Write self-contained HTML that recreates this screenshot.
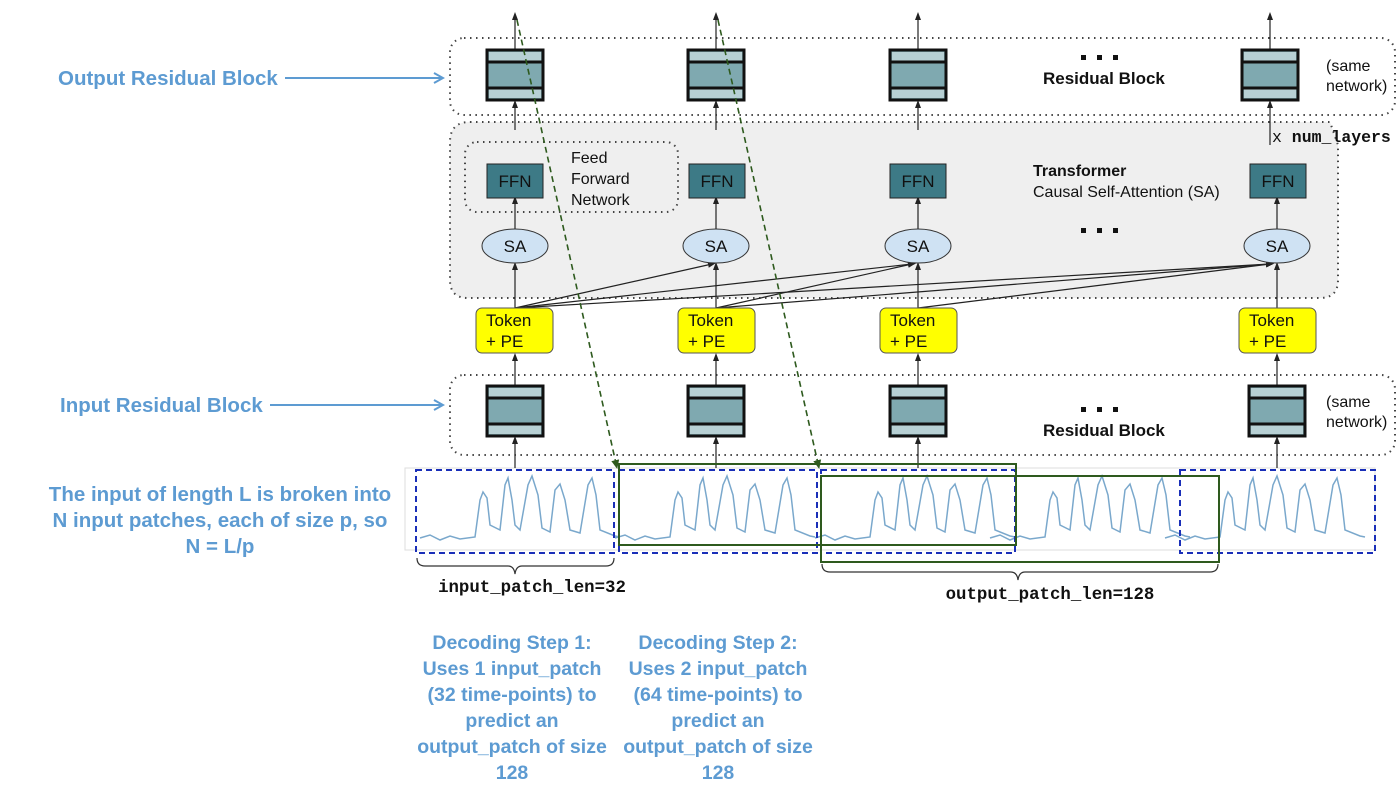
<!DOCTYPE html>
<html><head><meta charset="utf-8"><style>
html,body{margin:0;padding:0;background:#fff;}
svg{display:block;}
.blue{fill:#5d9bd2;font-family:"Liberation Sans",sans-serif;font-weight:bold;}
.mono{font-family:"Liberation Mono",monospace;font-weight:bold;fill:#111;}
</style></head><body>
<svg width="1400" height="788" viewBox="0 0 1400 788" xmlns="http://www.w3.org/2000/svg">
<defs>
<marker id="ah" markerWidth="8" markerHeight="8" refX="4" refY="4" orient="auto" markerUnits="userSpaceOnUse"><path d="M0,1 L8,4 L0,7 z" fill="#222"/></marker>
<marker id="ahb" markerWidth="12" markerHeight="12" refX="10" refY="6" orient="auto" markerUnits="userSpaceOnUse"><path d="M1,1 L10,6 L1,11" fill="none" stroke="#5d9bd2" stroke-width="2"/></marker>
<marker id="ahg" markerWidth="10" markerHeight="10" refX="8" refY="5" orient="auto" markerUnits="userSpaceOnUse"><path d="M0,1 L9,5 L0,9 z" fill="#2e5a1e"/></marker>
<g id="rb">
<rect x="-28" y="0" width="56" height="50" fill="#7fa9b0" stroke="#111" stroke-width="3"/>
<rect x="-26" y="2" width="52" height="9" fill="#b7d0d4"/>
<rect x="-26" y="39" width="52" height="9" fill="#b7d0d4"/>
<line x1="-28" y1="12" x2="28" y2="12" stroke="#111" stroke-width="3"/>
<line x1="-28" y1="38" x2="28" y2="38" stroke="#111" stroke-width="3"/>
</g>
<path id="ts" d="M0,538 L10,535 L20,540 L30,536 L40,539 L55,537 L60,500 L63,492 L67,498 L70,525 L80,530 L85,485 L88,478 L92,500 L95,525 L100,530 L108,485 L112,476 L118,495 L122,528 L130,532 L135,490 L140,484 L145,500 L150,530 L160,533 L168,485 L172,478 L176,495 L180,530 L195,536 L200,537" fill="none" stroke="#7aa8cc" stroke-width="1.5"/>
</defs>

<rect x="450" y="38" width="945" height="77" rx="14" fill="none" stroke="#444" stroke-width="2" stroke-dasharray="1.5 4.5"/>
<path d="M470,122 L1330,122 L1338,145 L1338,280 Q1338,298 1320,298 L468,298 Q450,298 450,280 L450,142 Q450,122 470,122 z" fill="#efefef" stroke="#444" stroke-width="2" stroke-dasharray="1.5 4.5"/>
<rect x="465" y="142" width="213" height="70" rx="12" fill="none" stroke="#444" stroke-width="2" stroke-dasharray="1.5 4.5"/>
<rect x="450" y="375" width="945" height="80" rx="14" fill="none" stroke="#444" stroke-width="2" stroke-dasharray="1.5 4.5"/>

<rect x="405" y="468" width="970" height="82" fill="#fff" stroke="#ddd" stroke-width="1"/>
<use href="#ts" x="420"/>
<use href="#ts" x="615"/>
<use href="#ts" x="815"/>
<use href="#ts" x="990"/>
<use href="#ts" x="1165"/>

<g stroke="#222" stroke-width="1.2" fill="none">
<line x1="515" y1="50" x2="515" y2="16" marker-end="url(#ah)"/>
<line x1="716" y1="50" x2="716" y2="16" marker-end="url(#ah)"/>
<line x1="918" y1="50" x2="918" y2="16" marker-end="url(#ah)"/>
<line x1="1270" y1="50" x2="1270" y2="16" marker-end="url(#ah)"/>
<line x1="515" y1="130" x2="515" y2="104" marker-end="url(#ah)"/>
<line x1="716" y1="130" x2="716" y2="104" marker-end="url(#ah)"/>
<line x1="918" y1="130" x2="918" y2="104" marker-end="url(#ah)"/>
<line x1="1270" y1="145" x2="1270" y2="104" marker-end="url(#ah)"/>
<line x1="515" y1="229" x2="515" y2="200" marker-end="url(#ah)"/>
<line x1="716" y1="229" x2="716" y2="200" marker-end="url(#ah)"/>
<line x1="918" y1="229" x2="918" y2="200" marker-end="url(#ah)"/>
<line x1="1277" y1="229" x2="1277" y2="200" marker-end="url(#ah)"/>
<line x1="515" y1="308" x2="515" y2="266" marker-end="url(#ah)"/>
<line x1="716" y1="308" x2="716" y2="266" marker-end="url(#ah)"/>
<line x1="918" y1="308" x2="918" y2="266" marker-end="url(#ah)"/>
<line x1="1277" y1="308" x2="1277" y2="266" marker-end="url(#ah)"/>
<line x1="515" y1="308" x2="712" y2="264" marker-end="url(#ah)"/>
<line x1="515" y1="308" x2="912" y2="264" marker-end="url(#ah)"/>
<line x1="515" y1="308" x2="1270" y2="264" marker-end="url(#ah)"/>
<line x1="716" y1="308" x2="912" y2="264" marker-end="url(#ah)"/>
<line x1="716" y1="308" x2="1270" y2="264" marker-end="url(#ah)"/>
<line x1="918" y1="308" x2="1270" y2="264" marker-end="url(#ah)"/>
<line x1="515" y1="468" x2="515" y2="440" marker-end="url(#ah)"/>
<line x1="716" y1="468" x2="716" y2="440" marker-end="url(#ah)"/>
<line x1="918" y1="468" x2="918" y2="440" marker-end="url(#ah)"/>
<line x1="1277" y1="468" x2="1277" y2="440" marker-end="url(#ah)"/>
<line x1="515" y1="385" x2="515" y2="357" marker-end="url(#ah)"/>
<line x1="716" y1="385" x2="716" y2="357" marker-end="url(#ah)"/>
<line x1="918" y1="385" x2="918" y2="357" marker-end="url(#ah)"/>
<line x1="1277" y1="385" x2="1277" y2="357" marker-end="url(#ah)"/>
</g>

<use href="#rb" x="515" y="50"/><use href="#rb" x="716" y="50"/><use href="#rb" x="918" y="50"/><use href="#rb" x="1270" y="50"/>
<use href="#rb" x="515" y="386"/><use href="#rb" x="716" y="386"/><use href="#rb" x="918" y="386"/><use href="#rb" x="1277" y="386"/>

<g font-family="Liberation Sans, sans-serif" font-size="17" text-anchor="middle" fill="#111">
<rect x="487" y="164" width="56" height="34" fill="#3d7a86" stroke="#222"/><text x="515" y="187">FFN</text>
<rect x="689" y="164" width="56" height="34" fill="#3d7a86" stroke="#222"/><text x="717" y="187">FFN</text>
<rect x="890" y="164" width="56" height="34" fill="#3d7a86" stroke="#222"/><text x="918" y="187">FFN</text>
<rect x="1250" y="164" width="56" height="34" fill="#3d7a86" stroke="#222"/><text x="1278" y="187">FFN</text>
<ellipse cx="515" cy="246" rx="33" ry="17" fill="#cfe2f3" stroke="#333"/><text x="515" y="252">SA</text>
<ellipse cx="716" cy="246" rx="33" ry="17" fill="#cfe2f3" stroke="#333"/><text x="716" y="252">SA</text>
<ellipse cx="918" cy="246" rx="33" ry="17" fill="#cfe2f3" stroke="#333"/><text x="918" y="252">SA</text>
<ellipse cx="1277" cy="246" rx="33" ry="17" fill="#cfe2f3" stroke="#333"/><text x="1277" y="252">SA</text>
</g>
<g font-family="Liberation Sans, sans-serif" font-size="17" fill="#111">
<rect x="476" y="308" width="77" height="45" rx="6" fill="#ffff00" stroke="#555"/><text x="486" y="326">Token</text><text x="486" y="347">+ PE</text>
<rect x="678" y="308" width="77" height="45" rx="6" fill="#ffff00" stroke="#555"/><text x="688" y="326">Token</text><text x="688" y="347">+ PE</text>
<rect x="880" y="308" width="77" height="45" rx="6" fill="#ffff00" stroke="#555"/><text x="890" y="326">Token</text><text x="890" y="347">+ PE</text>
<rect x="1239" y="308" width="77" height="45" rx="6" fill="#ffff00" stroke="#555"/><text x="1249" y="326">Token</text><text x="1249" y="347">+ PE</text>
<text x="571" y="163" font-size="16">Feed</text>
<text x="571" y="184" font-size="16">Forward</text>
<text x="571" y="205" font-size="16">Network</text>
<text x="1033" y="176" font-weight="bold" font-size="16">Transformer</text>
<text x="1033" y="197" font-size="16">Causal Self-Attention (SA)</text>
<text x="1043" y="84" font-weight="bold" font-size="17">Residual Block</text>
<text x="1043" y="436" font-weight="bold" font-size="17">Residual Block</text>
<text x="1326" y="71" font-size="16">(same</text>
<text x="1326" y="91" font-size="16">network)</text>
<text x="1326" y="407" font-size="16">(same</text>
<text x="1326" y="427" font-size="16">network)</text>
</g>
<g fill="#111">
<rect x="1081" y="55" width="5" height="5"/><rect x="1097" y="55" width="5" height="5"/><rect x="1113" y="55" width="5" height="5"/>
<rect x="1081" y="228" width="5" height="5"/><rect x="1097" y="228" width="5" height="5"/><rect x="1113" y="228" width="5" height="5"/>
<rect x="1081" y="407" width="5" height="5"/><rect x="1097" y="407" width="5" height="5"/><rect x="1113" y="407" width="5" height="5"/>
</g>
<text x="1272" y="142" class="mono" font-size="16.5"><tspan font-weight="normal">x</tspan> num_layers</text>

<g fill="none" stroke="#1a2fb8" stroke-width="2" stroke-dasharray="6 4">
<rect x="416" y="470" width="198" height="83"/>
<rect x="619" y="470" width="198" height="83"/>
<rect x="821" y="470" width="194" height="83"/>
<rect x="1180" y="470" width="195" height="83"/>
</g>
<g fill="none" stroke="#2e5a1e" stroke-width="2">
<rect x="619" y="464" width="397" height="81"/>
<rect x="821" y="476" width="398" height="86"/>
</g>
<g stroke="#2e5a1e" stroke-width="1.6" stroke-dasharray="6 4" fill="none">
<line x1="517" y1="20" x2="617" y2="468" marker-end="url(#ahg)"/>
<line x1="718" y1="20" x2="819" y2="468" marker-end="url(#ahg)"/>
</g>

<g fill="none" stroke="#333" stroke-width="1.2">
<path d="M417,558 Q417,566 425,566 L508,566 Q514,566 515,574 Q516,566 522,566 L606,566 Q614,566 614,558"/>
<path d="M822,564 Q822,572 830,572 L1011,572 Q1017,572 1018,580 Q1019,572 1025,572 L1210,572 Q1218,572 1218,564"/>
</g>
<text x="532" y="592" class="mono" font-size="17.4" text-anchor="middle">input_patch_len=32</text>
<text x="1050" y="599" class="mono" font-size="17.4" text-anchor="middle">output_patch_len=128</text>

<text x="58" y="85" class="blue" font-size="20.5">Output Residual Block</text>
<line x1="285" y1="78" x2="443" y2="78" stroke="#5d9bd2" stroke-width="2" marker-end="url(#ahb)"/>
<text x="60" y="412" class="blue" font-size="20.5">Input Residual Block</text>
<line x1="270" y1="405" x2="443" y2="405" stroke="#5d9bd2" stroke-width="2" marker-end="url(#ahb)"/>
<g class="blue" font-size="20.5" text-anchor="middle">
<text x="220" y="501">The input of length L is broken into</text>
<text x="220" y="527">N input patches, each of size p, so</text>
<text x="220" y="553">N = L/p</text>
</g>
<g class="blue" font-size="19.5" text-anchor="middle">
<text x="512" y="649">Decoding Step 1:</text>
<text x="512" y="675">Uses 1 input_patch</text>
<text x="512" y="701">(32 time-points) to</text>
<text x="512" y="727">predict an</text>
<text x="512" y="753">output_patch of size</text>
<text x="512" y="779">128</text>
<text x="718" y="649">Decoding Step 2:</text>
<text x="718" y="675">Uses 2 input_patch</text>
<text x="718" y="701">(64 time-points) to</text>
<text x="718" y="727">predict an</text>
<text x="718" y="753">output_patch of size</text>
<text x="718" y="779">128</text>
</g>
</svg>
</body></html>
